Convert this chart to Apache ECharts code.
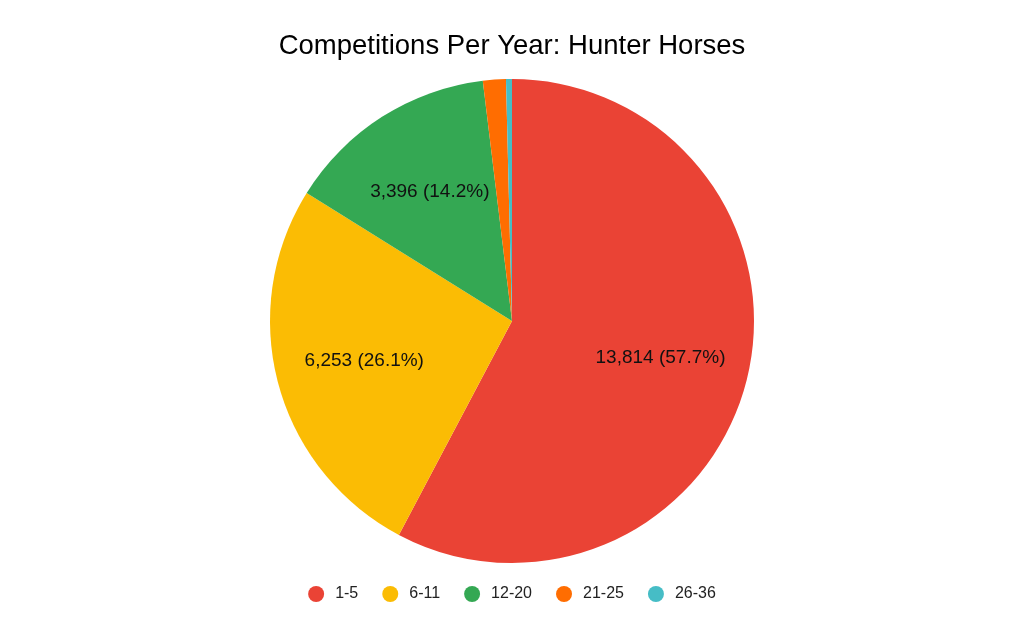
<!DOCTYPE html>
<html>
<head>
<meta charset="utf-8">
<script src="https://cdn.jsdelivr.net/npm/echarts@6/dist/echarts.min.js"></script>
<style>html,body{margin:0;padding:0;background:#fff}#c{width:1024px;height:634px}</style>
</head>
<body>
<div id="c"></div>
<script>
var categories = ['1-5', '6-11', '12-20', '21-25', '26-36'];
var values = [13814, 6253, 3396, 366, 95];
var colors = ['#EA4335', '#FBBC04', '#34A853', '#FF6D01', '#46BDC6'];
var titleText = 'Competitions Per Year: Hunter Horses';

var total = values.reduce(function (a, b) { return a + b; }, 0);
var data = categories.map(function (c, i) { return { name: c, value: values[i] }; });
function fmt(p) {
  if (p.percent < 5) return '';
  return p.value.toLocaleString('en-US') + ' (' + (p.value / total * 100).toFixed(1) + '%)';
}
var FONT = 'Liberation Sans, Arial, sans-serif';
var chart = echarts.init(document.getElementById('c'), null, { renderer: 'canvas' });
chart.setOption({
  animation: false,
  color: colors,
  title: {
    text: titleText, left: 'center', top: 27,
    textStyle: { fontFamily: FONT, fontSize: 27.5, fontWeight: 'normal', color: '#000' }
  },
  legend: {
    top: 581, left: 'center', icon: 'circle', itemWidth: 16, itemHeight: 16, itemGap: 24,
    textStyle: { fontFamily: FONT, fontSize: 16, color: '#222', padding: [0, 0, 0, 6] },
    data: categories
  },
  series: [
    {
      type: 'pie', center: [512, 321], radius: [0, 242], startAngle: 90, clockwise: true,
      data: data, label: { show: false }, labelLine: { show: false },
      itemStyle: { borderWidth: 0 }
    },
    {
      type: 'pie', center: [512, 321], radius: [58, 242], startAngle: 90, clockwise: true,
      data: data, silent: true, legendHoverLink: false,
      itemStyle: { color: 'rgba(0,0,0,0)', borderWidth: 0 },
      label: {
        show: true, position: 'inside', formatter: fmt,
        fontFamily: FONT, fontSize: 19, color: '#111'
      },
      labelLine: { show: false }
    }
  ]
});
</script>
</body>
</html>
